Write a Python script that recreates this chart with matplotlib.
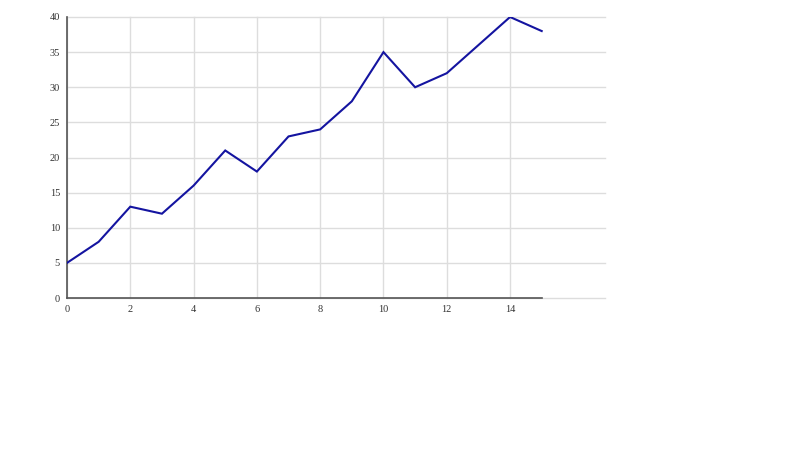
import matplotlib
matplotlib.use('Agg')
from matplotlib import pyplot as plt

# values
xs = list(range(16))
ys = [5, 8, 13, 12, 16, 21, 18, 23, 24, 28, 35, 30, 32, 36, 40, 38]
xticks = [0, 2, 4, 6, 8, 10, 12, 14]
yticks = [0, 5, 10, 15, 20, 25, 30, 35, 40]


def main():
    plt.rcParams['font.family'] = ['Liberation Serif', 'DejaVu Serif']
    fig = plt.figure(figsize=(8, 4.5), dpi=100)
    ax = fig.add_axes([67 / 800, 1 - 298 / 450, (605 - 67) / 800, (298 - 17) / 450])

    ax.plot(xs, ys, color='#1414a0', linewidth=1.5, solid_joinstyle='miter', zorder=3)

    ax.set_xlim(0, 17)
    ax.set_ylim(0, 40)
    ax.set_xticks(xticks)
    ax.set_yticks(yticks)
    ax.tick_params(length=0, pad=5, labelsize=7.5, colors='#333333')

    ax.grid(True, color='#dddddd', linewidth=1)
    ax.set_axisbelow(True)
    for gl in ax.get_ygridlines() + ax.get_xgridlines():
        gl.set_clip_on(False)

    for side in ('top', 'right'):
        ax.spines[side].set_visible(False)
    for side in ('left', 'bottom'):
        ax.spines[side].set_color('#555555')
        ax.spines[side].set_linewidth(1.2)
    ax.spines['bottom'].set_bounds(0, 15)

    fig.savefig('out.png', dpi=100)


if __name__ == '__main__':
    main()
